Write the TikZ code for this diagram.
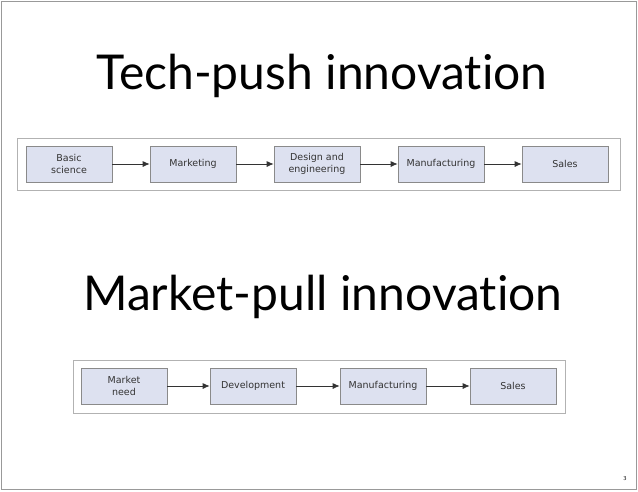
\documentclass[tikz,border=0pt]{standalone}
\usepackage{fontspec}
\setmainfont{Lato}[Ligatures={NoCommon,NoRare}]
\newfontfamily\boxfont{DejaVu Sans}
\usetikzlibrary{arrows.meta}
\definecolor{boxfill}{HTML}{DDE1F0}
\definecolor{boxline}{HTML}{8A8A8A}
\tikzset{x=1pt,y=-1pt,
 stagebox/.style={draw=boxline,fill=boxfill,line width=0.6pt,minimum width=86pt,minimum height=36pt,align=center,inner sep=1pt,font=\boxfont\fontsize{9.5}{11.5}\selectfont,text=black!80},
 panel/.style={draw=black!30,line width=0.8pt,fill=white},
 flow/.style={-{Latex[length=7pt,width=6pt]},line width=0.8pt,draw=black!80}}
\begin{document}
\begin{tikzpicture}
\useasboundingbox (0,0) rectangle (638,491);
\draw[black!40,line width=0.8pt] (1.5,1.5) rectangle (636.5,489.5);
\node[font=\fontsize{48}{52}\selectfont,anchor=base] (t1) at (322,89) {Tech-push innovation};
\node[font=\fontsize{48}{52}\selectfont,anchor=base west,inner sep=0pt] (t2) at (83,310) {Market-pull innovation};
\draw[panel] (17,138) rectangle (620,190);
\node[stagebox] (a1) at (69,164) {Basic\\science};
\node[stagebox] (a2) at (193,164) {Marketing};
\node[stagebox] (a3) at (317,164) {Design and\\engineering};
\node[stagebox] (a4) at (441,164) {Manufacturing};
\node[stagebox] (a5) at (565,164) {Sales};
\foreach \i/\j in {a1/a2,a2/a3,a3/a4,a4/a5} \draw[flow] (\i) -- (\j);
\draw[panel] (73,360) rectangle (565,413);
\node[stagebox] (b1) at (124,386) {Market\\need};
\node[stagebox] (b2) at (253,386) {Development};
\node[stagebox] (b3) at (383,386) {Manufacturing};
\node[stagebox] (b4) at (513,386) {Sales};
\foreach \i/\j in {b1/b2,b2/b3,b3/b4} \draw[flow] (\i) -- (\j);
\node[font=\sffamily\fontsize{6}{7}\selectfont] (pn) at (625,479) {3};
\end{tikzpicture}
\end{document}
